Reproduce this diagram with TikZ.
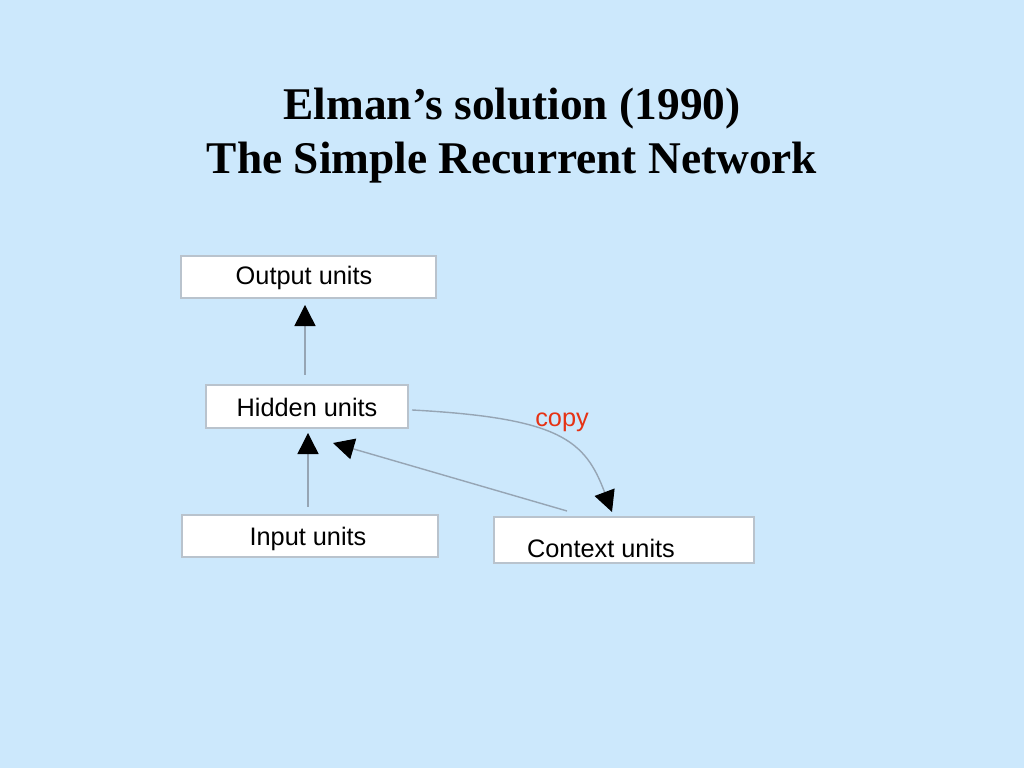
\documentclass[tikz,border=0pt]{standalone}
\usepackage{fontspec}
\setmainfont{Liberation Serif}
\newfontfamily\boxfont{Liberation Sans}
\usetikzlibrary{arrows.meta,positioning}
\definecolor{slidebg}{RGB}{204,232,252}
\definecolor{boxline}{RGB}{185,195,205}
\definecolor{wire}{RGB}{150,165,180}
\definecolor{copyred}{RGB}{230,50,20}
\tikzset{
  unitbox/.style={draw=boxline, fill=white, inner sep=0pt},
  unittext/.style={font=\boxfont\fontsize{7.2}{8}\selectfont},
  feed/.style={wire, thin, -{Triangle[length=6pt,width=6pt,color=black]}}
}
\begin{document}
\begin{tikzpicture}[x=0.01cm,y=-0.01cm]
        \fill [slidebg] (0,0) rectangle (1024,768);
        \useasboundingbox (0,0) rectangle (1024,768);
        \node [font=\bfseries\fontsize{12.9}{15.3}\selectfont, align=center] (title) at (512,136)
            {Elman’s solution (1990)\\The Simple Recurrent Network};
        \node [unitbox, minimum width=2.55cm, minimum height=0.42cm] (out) at (308.5,277) {};
        \node at (304,278) [unittext] (outtxt) {Output units};
        \node [unitbox, minimum width=2.02cm, minimum height=0.43cm] (hid) at (307,406.5) {};
        \node at (307,407) [unittext] (hidtxt) {Hidden units};
        \node [unitbox, minimum width=2.56cm, minimum height=0.42cm] (inp) at (310,536) {};
        \node at (308,539) [unittext] (inptxt) {Input units};
        \node [unitbox, minimum width=2.6cm, minimum height=0.46cm] (ctx) at (624,540) {};
        \node at (601,548) [unittext] (ctxtxt) {Context units};
        \coordinate (ctxfoot) at (567,511);
        \coordinate (hidtip) at (333,443);
        \coordinate (copystart) at (412,410);
        \coordinate (copytip) at (612,512);
        % feed-forward and recurrent connections
        \draw [feed] (305,375) -- (305,305);
        \draw [feed] (308,507) -- (308,433);
        \draw [feed] (ctxfoot) -- (hidtip);
        \draw [feed] (copystart) .. controls (560,418) and (585,440) .. (copytip);
        \node [text=copyred, unittext] (copylbl) at (562,422) {copy};
\end{tikzpicture}
\end{document}
